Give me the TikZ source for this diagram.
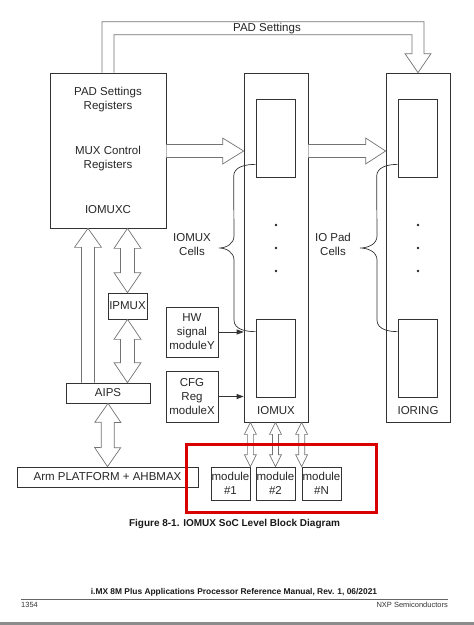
\documentclass[tikz,border=0pt]{standalone}
\usepackage{fontspec}
\setmainfont{Liberation Sans}
\usetikzlibrary{calc,arrows.meta}

\newcommand{\blkarrow}[5]{%
  \path ($(#2)!#5!(#1)$) coordinate (hb);
  \draw[blk] ($(#1)!#3!90:(#2)$) -- ($(hb)!#3!90:(#2)$) -- ($(hb)!#4!90:(#2)$) -- (#2)
    -- ($(hb)!#4!-90:(#2)$) -- ($(hb)!#3!-90:(#2)$) -- ($(#1)!#3!-90:(#2)$);
}
\newcommand{\dblarrow}[5]{%
  \path ($(#1)!#5!(#2)$) coordinate (ha) ($(#2)!#5!(#1)$) coordinate (hb);
  \draw[blk] (#1) -- ($(ha)!#4!90:(#2)$) -- ($(ha)!#3!90:(#2)$) -- ($(hb)!#3!90:(#2)$)
    -- ($(hb)!#4!90:(#2)$) -- (#2) -- ($(hb)!#4!-90:(#2)$) -- ($(hb)!#3!-90:(#2)$)
    -- ($(ha)!#3!-90:(#2)$) -- ($(ha)!#4!-90:(#2)$) -- cycle;
}

\tikzset{
  box/.style={draw=black!80, line width=0.7pt, inner sep=0pt},
  blk/.style={draw=black!55, line width=0.7pt, fill=white},
  txt/.style={text=black!85, align=center, font=\fontsize{11.5}{14}\selectfont},
}

\begin{document}
\begin{tikzpicture}[x=1pt,y=-1pt]
  \useasboundingbox (0,0) rectangle (474,625);

  \node[box, minimum width=116, minimum height=155] (iomuxc) at (108,150.5){};
  \node[box, minimum width=64, minimum height=349] (iomux) at (276,247.5){};
  \node[box, minimum width=64, minimum height=349] (ioring) at (418,247.5){};

  \node[box, minimum width=39, minimum height=78] (mc1) at (275.5,138){};
  \node[box, minimum width=39, minimum height=78] (mc2) at (275.5,358){};
  \node[box, minimum width=39, minimum height=78] (rc1) at (417.5,138){};
  \node[box, minimum width=39, minimum height=78] (rc2) at (417.5,358){};

  \node[txt] (padreg) at (108,100){PAD Settings\\Registers};
  \node[txt] (muxreg) at (108,159){MUX Control\\Registers};
  \node[txt] (iomuxclbl) at (108,210){IOMUXC};
  \node[txt] (iomuxlbl) at (276,411){IOMUX};
  \node[txt] (ioringlbl) at (418,411){IORING};
  \node[txt] (muxcells) at (192,244.5){IOMUX\\Cells};
  \node[txt] (padcells) at (333,244.5){IO Pad\\Cells};

  \node[box, txt, minimum width=39, minimum height=26] (ipmux) at (127.5,306){IPMUX};
  \node[box, txt, minimum width=84, minimum height=20] (aips) at (108,393){AIPS};
  \node[box, txt, minimum width=181, minimum height=20] (arm) at (107.5,477){Arm PLATFORM + AHBMAX};
  \node[box, txt, minimum width=52, minimum height=50] (hw) at (192,332){HW\\signal\\moduleY};
  \node[box, txt, minimum width=52, minimum height=51] (cfg) at (192,396.5){CFG\\Reg\\moduleX};

  \node[box, txt, minimum width=39, minimum height=33] (m1) at (230.5,483.5){module\\\#1};
  \node[box, txt, minimum width=39, minimum height=33] (m2) at (275.5,483.5){module\\\#2};
  \node[box, txt, minimum width=39, minimum height=33] (mn) at (321.5,483.5){module\\\#N};

  \foreach \y in {225,248,271}{
    \fill[black!85] (276,\y) circle (1.4);
    \fill[black!85] (418,\y) circle (1.4);
  }

  \draw[box] ([yshift=13pt]mc1.south west) to[out=180,in=90] ++(-22,12) -- (234,236)
    to[out=-90,in=0] (219,248) to[out=0,in=90] (234,260) -- (234,320)
    to[out=-90,in=180] ([yshift=-13pt]mc2.north west);
  \draw[box] ([yshift=13pt]rc1.south west) to[out=180,in=90] ++(-21,12) -- (377,236)
    to[out=-90,in=0] (360,248) to[out=0,in=90] (377,260) -- (377,320)
    to[out=-90,in=180] ([yshift=-13pt]rc2.north west);

  \draw[blk] ([xshift=-6pt]iomuxc.north) |- ([xshift=6pt,yshift=51pt]ioring.north) -- ++(0,32)
    -- ++(7,0) -- (ioring.north) -- ++(-13,-19) -- ++(7,0)
    |- ([xshift=6pt,yshift=38pt]iomuxc.north) -- ([xshift=6pt]iomuxc.north);
  \node[txt] (padset) at (267,28.5){PAD Settings};

  \coordinate (c1) at (iomuxc.east |- 0,151);
  \coordinate (c2) at (iomux.west |- 0,151);
  \coordinate (c3) at (iomux.east |- 0,151);
  \coordinate (c4) at (ioring.west |- 0,151);
  \blkarrow{c1}{c2}{6.5pt}{13pt}{21pt}
  \blkarrow{c3}{c4}{6.5pt}{13pt}{20pt}

  \coordinate (a1) at ([xshift=-20pt]aips.north);
  \coordinate (a2) at ([xshift=-20pt]iomuxc.south);
  \blkarrow{a1}{a2}{6.5pt}{13.5pt}{19pt}

  \coordinate (p1) at (ipmux.north |- iomuxc.south);
  \dblarrow{p1}{ipmux.north}{7pt}{13.5pt}{20pt}
  \coordinate (p2) at (ipmux.south |- aips.north);
  \dblarrow{ipmux.south}{p2}{7pt}{13.5pt}{20pt}
  \dblarrow{aips.south}{arm.north}{6.5pt}{13pt}{19pt}

  \draw[black!80, line width=0.7pt, -{Triangle[length=7pt,width=5pt]}] (hw.east) -- (hw.east -| iomux.west);
  \draw[black!80, line width=0.7pt, -{Triangle[length=7pt,width=5pt]}] (cfg.east) -- (cfg.east -| iomux.west);

  \coordinate (b1) at (m1.north east |- iomux.south);
  \coordinate (b2) at (m2.north |- iomux.south);
  \coordinate (b3) at (mn.north west |- iomux.south);
  \dblarrow{b1}{m1.north east}{3pt}{6pt}{12pt}
  \dblarrow{b2}{m2.north}{3pt}{6pt}{12pt}
  \dblarrow{b3}{mn.north west}{3pt}{6pt}{12pt}

  \draw[red!85!black, line width=3pt] (186,444) rectangle (376,512);

  \node[text=black!90, font=\fontsize{10}{12}\selectfont\bfseries] (caption) at (234.5,524){Figure 8-1. IOMUX SoC Level Block Diagram};
  \node[text=black!90, font=\fontsize{8.4}{10}\selectfont\bfseries] (manual) at (234,592){i.MX 8M Plus Applications Processor Reference Manual, Rev. 1, 06/2021};
  \coordinate (r1) at (21,599);
  \coordinate (r2) at (448,599);
  \draw[black!60, line width=0.8pt] (r1) -- (r2);
  \node[anchor=west, inner sep=0pt, text=black!80, font=\fontsize{7.5}{9}\selectfont] (page) at (21,605){1354};
  \node[anchor=east, inner sep=0pt, text=black!80, font=\fontsize{7.5}{9}\selectfont] (nxp) at (448,605){NXP Semiconductors};
  \fill[black!45] (0,622) rectangle (474,625);
\end{tikzpicture}
\end{document}
